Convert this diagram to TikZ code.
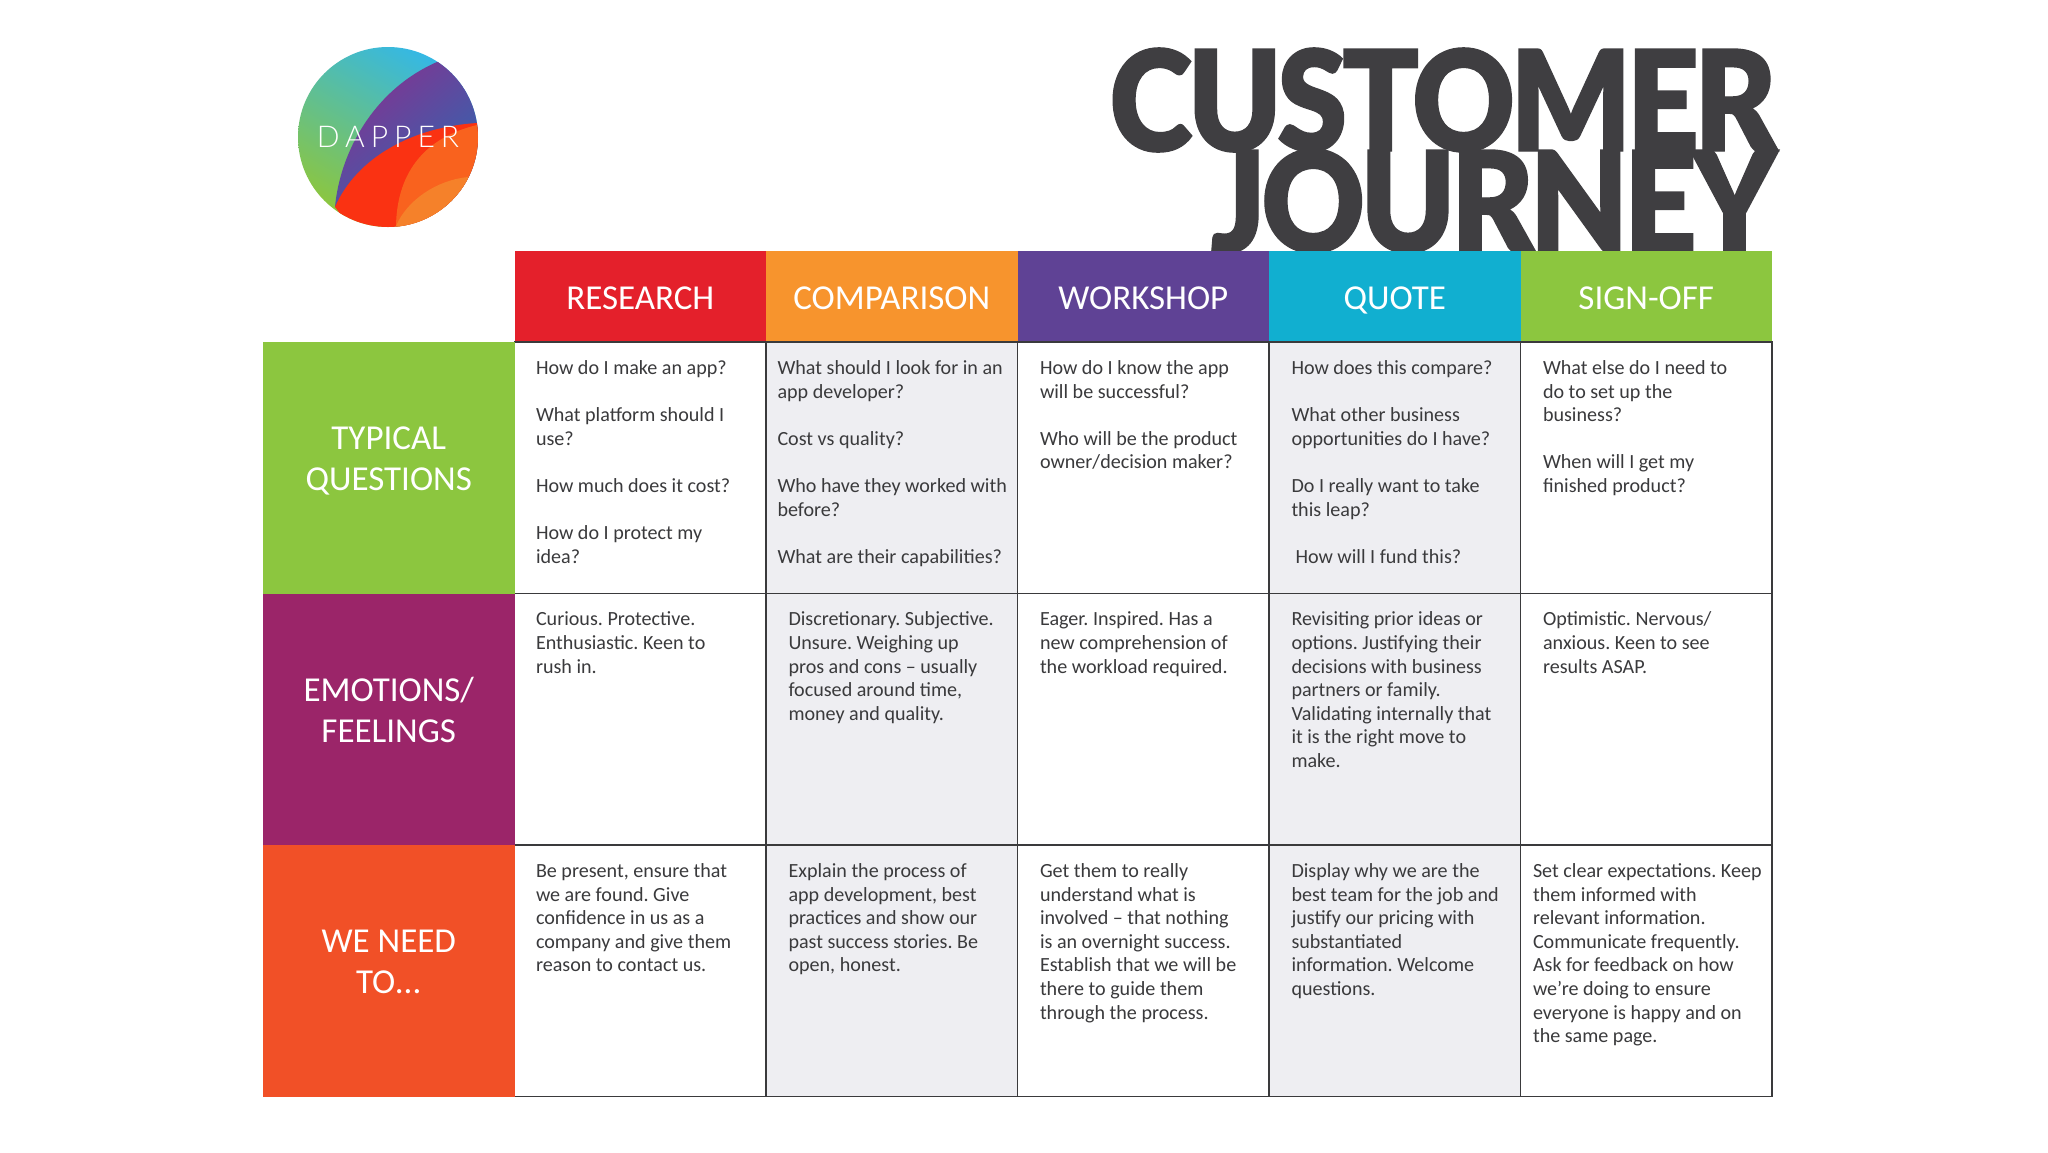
\documentclass[tikz,border=0pt]{standalone}
\usepackage{fontspec}
\usetikzlibrary{positioning}
\setmainfont{Carlito}
\newfontfamily\titlefont[LetterSpace=-4,FakeBold=1]{Lato Black}
\newfontfamily\logofont[LetterSpace=20]{Lato Light}
\definecolor{titlegrey}{HTML}{3F3E41}
\definecolor{resred}{HTML}{E4202B}
\definecolor{comporange}{HTML}{F7942D}
\definecolor{workpurple}{HTML}{5F4295}
\definecolor{quotecyan}{HTML}{11AFD0}
\definecolor{signgreen}{HTML}{8CC63F}
\definecolor{feelplum}{HTML}{9B2569}
\definecolor{needorange}{HTML}{F15027}
\definecolor{cellgrey}{HTML}{EEEEF2}
\definecolor{linegrey}{HTML}{3A3A3C}
\definecolor{bodygrey}{HTML}{3A3A3C}
\definecolor{logoteal}{HTML}{2DB5A0}
\definecolor{logosky}{HTML}{35B8E4}
\definecolor{logoviolet}{HTML}{8A2F8E}
\definecolor{logoblue}{HTML}{2E67B1}
\definecolor{logored}{HTML}{FA3212}
\definecolor{logoorange}{HTML}{F9621E}
\definecolor{logopeach}{HTML}{F5812A}
\tikzset{
    every node/.style={inner sep=0pt,outer sep=0pt},
    headbox/.style={minimum width=251.5pt,minimum height=91pt,text=white,
        text height=30pt,text depth=4pt,
        font=\fontsize{35}{41}\selectfont,align=center},
    sidebox/.style={minimum width=251.5pt,minimum height=251.5pt,text=white,
        text depth=18pt,
        font=\fontsize{35}{41}\selectfont,align=center},
    whitecell/.style={minimum width=251.5pt,minimum height=251.5pt,draw=linegrey,line width=1.4pt,fill=white},
    greycell/.style={whitecell,fill=cellgrey},
    celltext/.style={align=left,text=bodygrey,font=\fontsize{20.1}{23.6}\selectfont\frenchspacing},
}
\begin{document}
\begin{tikzpicture}[x=1pt,y=-1pt]
\useasboundingbox (0,0) rectangle (2048,1152);

% logo
\begin{scope}
\clip (388,137) circle (90);
\shade[bottom color=signgreen,middle color=logoteal,top color=logosky,shading angle=-30]
    (298,47) rectangle (478,227);
\shade[left color=logoviolet,right color=logoblue,shading angle=40]
    (437,62) .. controls (373,90) and (340,153) .. (335,207) -- (490,207) -- (490,40) -- cycle;
\fill[logored] (477,123) .. controls (413,127) and (357,157) .. (335,207) -- (360,240) -- (490,240) -- cycle;
\fill[logoorange] (477,125) .. controls (427,137) and (397,170) .. (396,226) -- (490,240) -- cycle;
\fill[logopeach] (468,177) .. controls (437,180) and (407,200) .. (396,226) -- (490,240) -- cycle;
\end{scope}
\node[text=white,font=\logofont\fontsize{30}{30}\selectfont] (logo) at (388,137) {DAPPER};

% title, the header row sits over its foot
\node[anchor=base east,text=titlegrey,font=\titlefont\fontsize{140}{140}\selectfont] (title1) at (1777,151) {\scalebox{.904}[1]{CUSTOMER}};
\node[anchor=base east,text=titlegrey,font=\titlefont\fontsize{140}{140}\selectfont] (title2) at (1777,252) {\scalebox{.912}[1]{JOURNEY}};

% header row
\node[headbox,fill=resred,anchor=north west] (research) at (514.5,251) {RESEARCH};
\node[headbox,fill=comporange,right=0pt of research] (comparison) {COMPARISON};
\node[headbox,fill=workpurple,right=0pt of comparison] (workshop) {WORKSHOP};
\node[headbox,fill=quotecyan,right=0pt of workshop] (quote) {QUOTE};
\node[headbox,fill=signgreen,right=0pt of quote] (signoff) {SIGN-OFF};

% grid
\node[whitecell,below=0pt of research] (q1) {};
\node[greycell,right=0pt of q1] (q2) {};
\node[whitecell,right=0pt of q2] (q3) {};
\node[greycell,right=0pt of q3] (q4) {};
\node[whitecell,right=0pt of q4] (q5) {};
\node[whitecell,below=0pt of q1] (f1) {};
\node[greycell,right=0pt of f1] (f2) {};
\node[whitecell,right=0pt of f2] (f3) {};
\node[greycell,right=0pt of f3] (f4) {};
\node[whitecell,right=0pt of f4] (f5) {};
\node[whitecell,below=0pt of f1] (n1) {};
\node[greycell,right=0pt of n1] (n2) {};
\node[whitecell,right=0pt of n2] (n3) {};
\node[greycell,right=0pt of n3] (n4) {};
\node[whitecell,right=0pt of n4] (n5) {};

% row labels
\node[sidebox,fill=signgreen,left=0pt of q1] (typical) {TYPICAL\\QUESTIONS};
\node[sidebox,fill=feelplum,left=0pt of f1] (feelings) {EMOTIONS/\\FEELINGS};
\node[sidebox,fill=needorange,left=0pt of n1] (weneed) {WE NEED\\TO...};

% questions
\node[celltext,below right=18.5pt and 21.5pt of q1.north west] (q1text) {How do I make an app?\\[23.6pt]What platform should I\\use?\\[23.6pt]How much does it cost?\\[23.6pt]How do I protect my\\idea?};
\node[celltext,below right=18.5pt and 11.5pt of q2.north west] (q2text) {What should I look for in an\\app developer?\\[23.6pt]Cost vs quality?\\[23.6pt]Who have they worked with\\before?\\[23.6pt]What are their capabilities?};
\node[celltext,below right=18.5pt and 22.5pt of q3.north west] (q3text) {How do I know the app\\will be successful?\\[23.6pt]Who will be the product\\owner/decision maker?};
\node[celltext,below right=18.5pt and 22.5pt of q4.north west] (q4text) {How does this compare?\\[23.6pt]What other business\\opportunities do I have?\\[23.6pt]Do I really want to take\\this leap?\\[23.6pt]\hspace{4pt}How will I fund this?};
\node[celltext,below right=18.5pt and 22.5pt of q5.north west] (q5text) {What else do I need to\\do to set up the\\business?\\[23.6pt]When will I get my\\finished product?};

% feelings
\node[celltext,below right=18.5pt and 21.5pt of f1.north west] (f1text) {Curious. Protective.\\Enthusiastic. Keen to\\rush in.};
\node[celltext,below right=18.5pt and 22.5pt of f2.north west] (f2text) {Discretionary. Subjective.\\Unsure. Weighing up\\pros and cons – usually\\focused around time,\\money and quality.};
\node[celltext,below right=18.5pt and 22.5pt of f3.north west] (f3text) {Eager. Inspired. Has a\\new comprehension of\\the workload required.};
\node[celltext,below right=18.5pt and 22.5pt of f4.north west] (f4text) {Revisiting prior ideas or\\options. Justifying their\\decisions with business\\partners or family.\\Validating internally that\\it is the right move to\\make.};
\node[celltext,below right=18.5pt and 22.5pt of f5.north west] (f5text) {Optimistic. Nervous/\\anxious. Keen to see\\results ASAP.};

% actions
\node[celltext,below right=18.5pt and 21.5pt of n1.north west] (n1text) {Be present, ensure that\\we are found. Give\\confidence in us as a\\company and give them\\reason to contact us.};
\node[celltext,below right=18.5pt and 22.5pt of n2.north west] (n2text) {Explain the process of\\app development, best\\practices and show our\\past success stories. Be\\open, honest.};
\node[celltext,below right=18.5pt and 22.5pt of n3.north west] (n3text) {Get them to really\\understand what is\\involved – that nothing\\is an overnight success.\\Establish that we will be\\there to guide them\\through the process.};
\node[celltext,below right=18.5pt and 22.5pt of n4.north west] (n4text) {Display why we are the\\best team for the job and\\justify our pricing with\\substantiated\\information. Welcome\\questions.};
\node[celltext,below right=18.5pt and 12.5pt of n5.north west] (n5text) {Set clear expectations. Keep\\them informed with\\relevant information.\\Communicate frequently.\\Ask for feedback on how\\we’re doing to ensure\\everyone is happy and on\\the same page.};

\end{tikzpicture}
\end{document}
